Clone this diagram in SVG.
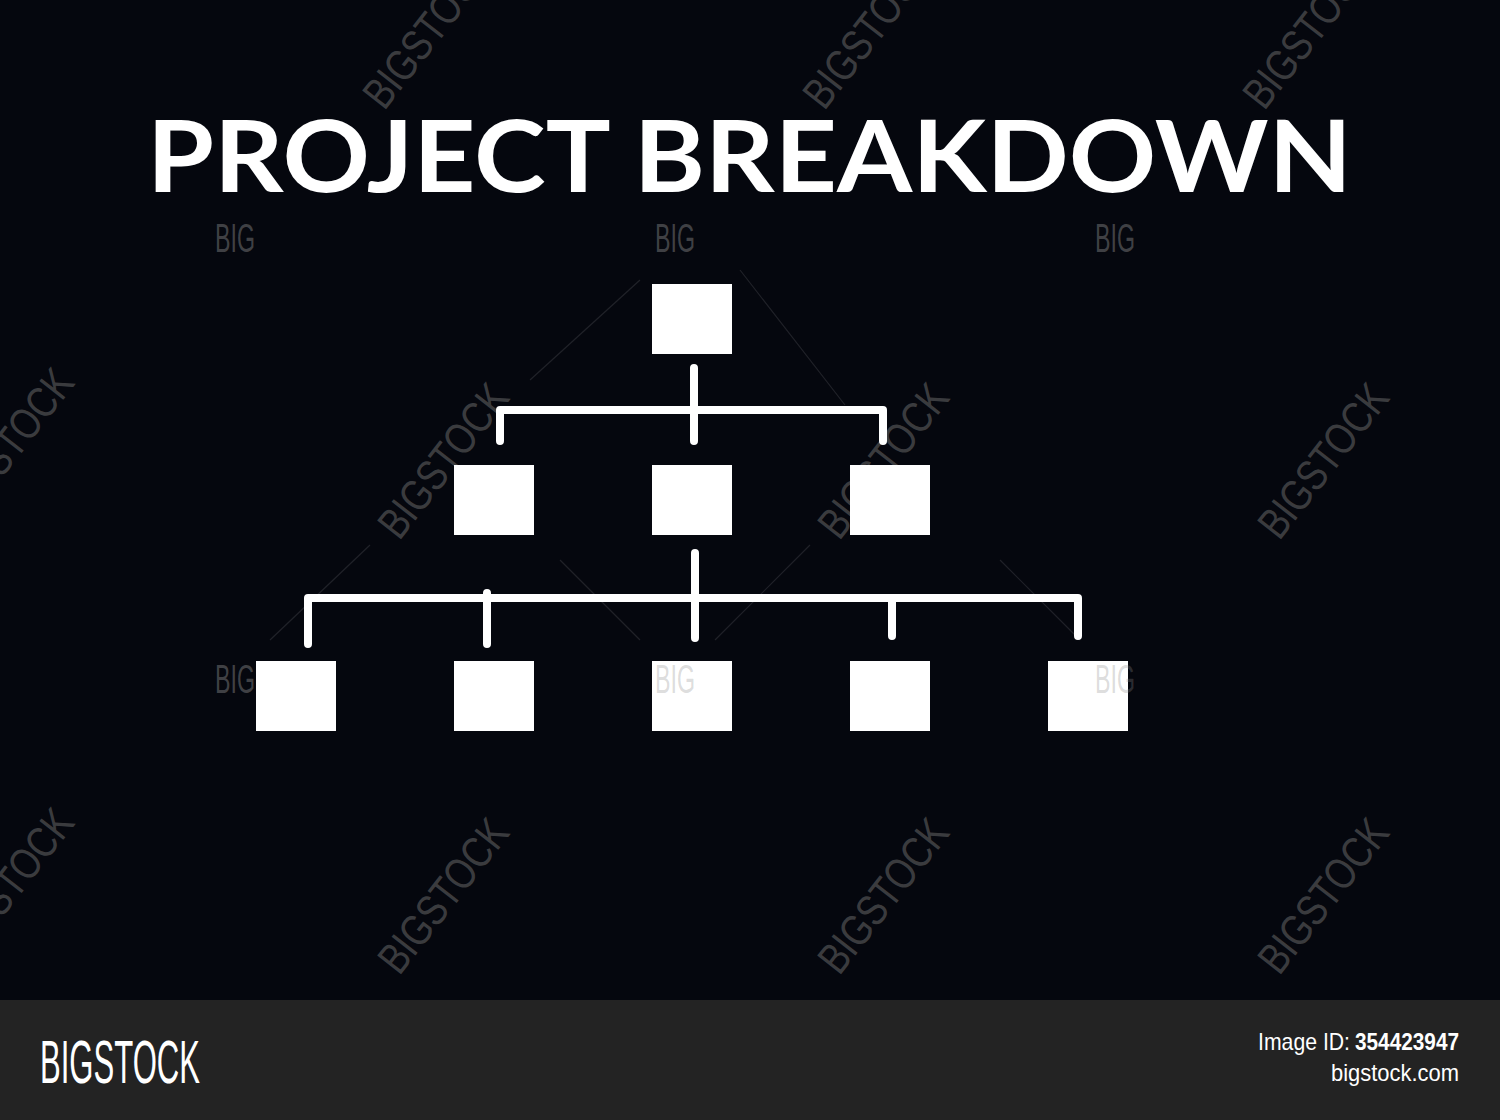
<svg xmlns="http://www.w3.org/2000/svg" width="1500" height="1120" viewBox="0 0 1500 1120">
<defs>
<style>
.node{fill:#ffffff}
.conn{stroke:#ffffff;stroke-width:8;stroke-linecap:round;fill:none}
.wm{font-family:"Liberation Sans",Arial,sans-serif;font-size:44px;fill:#6a6a6a;fill-opacity:0.55}
.wmbig{font-family:"Liberation Sans",Arial,sans-serif;font-size:40px;fill:#8a8a8a;fill-opacity:0.45}
.wl{stroke:#9a9aa0;stroke-opacity:0.18;stroke-width:1.2}
.ft{font-family:"Liberation Sans",Arial,sans-serif;font-size:24px;fill:#ffffff}
</style>
</defs>
<rect width="1500" height="1120" fill="#05070e"/>
<g id="watermarks">
<g class="wm" text-anchor="middle">
<text transform="translate(440,40) rotate(-52) scale(0.55,1)" textLength="330" lengthAdjust="spacingAndGlyphs">BIGSTOCK</text>
<text transform="translate(880,40) rotate(-52) scale(0.55,1)" textLength="330" lengthAdjust="spacingAndGlyphs">BIGSTOCK</text>
<text transform="translate(1320,40) rotate(-52) scale(0.55,1)" textLength="330" lengthAdjust="spacingAndGlyphs">BIGSTOCK</text>
<text transform="translate(20,455) rotate(-52) scale(0.55,1)" textLength="330" lengthAdjust="spacingAndGlyphs">BIGSTOCK</text>
<text transform="translate(455,470) rotate(-52) scale(0.55,1)" textLength="330" lengthAdjust="spacingAndGlyphs">BIGSTOCK</text>
<text transform="translate(895,470) rotate(-52) scale(0.55,1)" textLength="330" lengthAdjust="spacingAndGlyphs">BIGSTOCK</text>
<text transform="translate(1335,470) rotate(-52) scale(0.55,1)" textLength="330" lengthAdjust="spacingAndGlyphs">BIGSTOCK</text>
<text transform="translate(20,895) rotate(-52) scale(0.55,1)" textLength="330" lengthAdjust="spacingAndGlyphs">BIGSTOCK</text>
<text transform="translate(455,905) rotate(-52) scale(0.55,1)" textLength="330" lengthAdjust="spacingAndGlyphs">BIGSTOCK</text>
<text transform="translate(895,905) rotate(-52) scale(0.55,1)" textLength="330" lengthAdjust="spacingAndGlyphs">BIGSTOCK</text>
<text transform="translate(1335,905) rotate(-52) scale(0.55,1)" textLength="330" lengthAdjust="spacingAndGlyphs">BIGSTOCK</text>
</g>
<g class="wmbig" text-anchor="middle">
<text x="235" y="252" textLength="40" lengthAdjust="spacingAndGlyphs">BIG</text>
<text x="675" y="252" textLength="40" lengthAdjust="spacingAndGlyphs">BIG</text>
<text x="1115" y="252" textLength="40" lengthAdjust="spacingAndGlyphs">BIG</text>
<text x="235" y="693" textLength="40" lengthAdjust="spacingAndGlyphs">BIG</text>
</g>
<g class="wl">
<line x1="530" y1="380" x2="640" y2="280"/>
<line x1="740" y1="270" x2="845" y2="405"/>
<line x1="270" y1="640" x2="370" y2="545"/>
<line x1="560" y1="560" x2="640" y2="640"/>
<line x1="715" y1="640" x2="810" y2="545"/>
<line x1="1000" y1="560" x2="1080" y2="640"/>
</g>
</g>
<text id="title" x="147" y="192" font-family="Lato,'Noto Sans','Liberation Sans',sans-serif" font-weight="bold" font-size="100" fill="#ffffff" textLength="1205" lengthAdjust="spacingAndGlyphs">PROJECT BREAKDOWN</text>
<g id="connectors">
<path class="conn" d="M694 368 V441 M500 410 H883 M500 410 V441 M883 410 V441"/>
<path class="conn" d="M695 553 V638 M308 598 H1078 M308 598 V644 M487 593 V644 M892 598 V636 M1078 598 V636"/>
</g>
<g id="n-root"><rect class="node" x="652" y="284" width="80" height="70"/></g>
<g id="n-l2-1"><rect class="node" x="454" y="465" width="80" height="70"/></g>
<g id="n-l2-2"><rect class="node" x="652" y="465" width="80" height="70"/></g>
<g id="n-l2-3"><rect class="node" x="850" y="465" width="80" height="70"/></g>
<g id="n-l3-1"><rect class="node" x="256" y="661" width="80" height="70"/></g>
<g id="n-l3-2"><rect class="node" x="454" y="661" width="80" height="70"/></g>
<g id="n-l3-3"><rect class="node" x="652" y="661" width="80" height="70"/></g>
<g id="n-l3-4"><rect class="node" x="850" y="661" width="80" height="70"/></g>
<g id="n-l3-5"><rect class="node" x="1048" y="661" width="80" height="70"/></g>
<g class="wmbig" text-anchor="middle">
<text x="675" y="693" textLength="40" lengthAdjust="spacingAndGlyphs" fill-opacity="0.3">BIG</text>
<text x="1115" y="693" textLength="40" lengthAdjust="spacingAndGlyphs" fill-opacity="0.3">BIG</text>
</g>
<g id="footer">
<rect x="0" y="1000" width="1500" height="120" fill="#232323"/>
<text x="40" y="1083" font-family="'Liberation Sans',Arial,sans-serif" font-size="62" fill="#ffffff" textLength="160" lengthAdjust="spacingAndGlyphs">BIGSTOCK</text>
<text class="ft" x="1258" y="1050" textLength="92" lengthAdjust="spacingAndGlyphs">Image ID:</text>
<text class="ft" x="1355" y="1050" font-weight="bold" textLength="104" lengthAdjust="spacingAndGlyphs">354423947</text>
<text class="ft" x="1459" y="1081" text-anchor="end" textLength="128" lengthAdjust="spacingAndGlyphs">bigstock.com</text>
</g>
</svg>
